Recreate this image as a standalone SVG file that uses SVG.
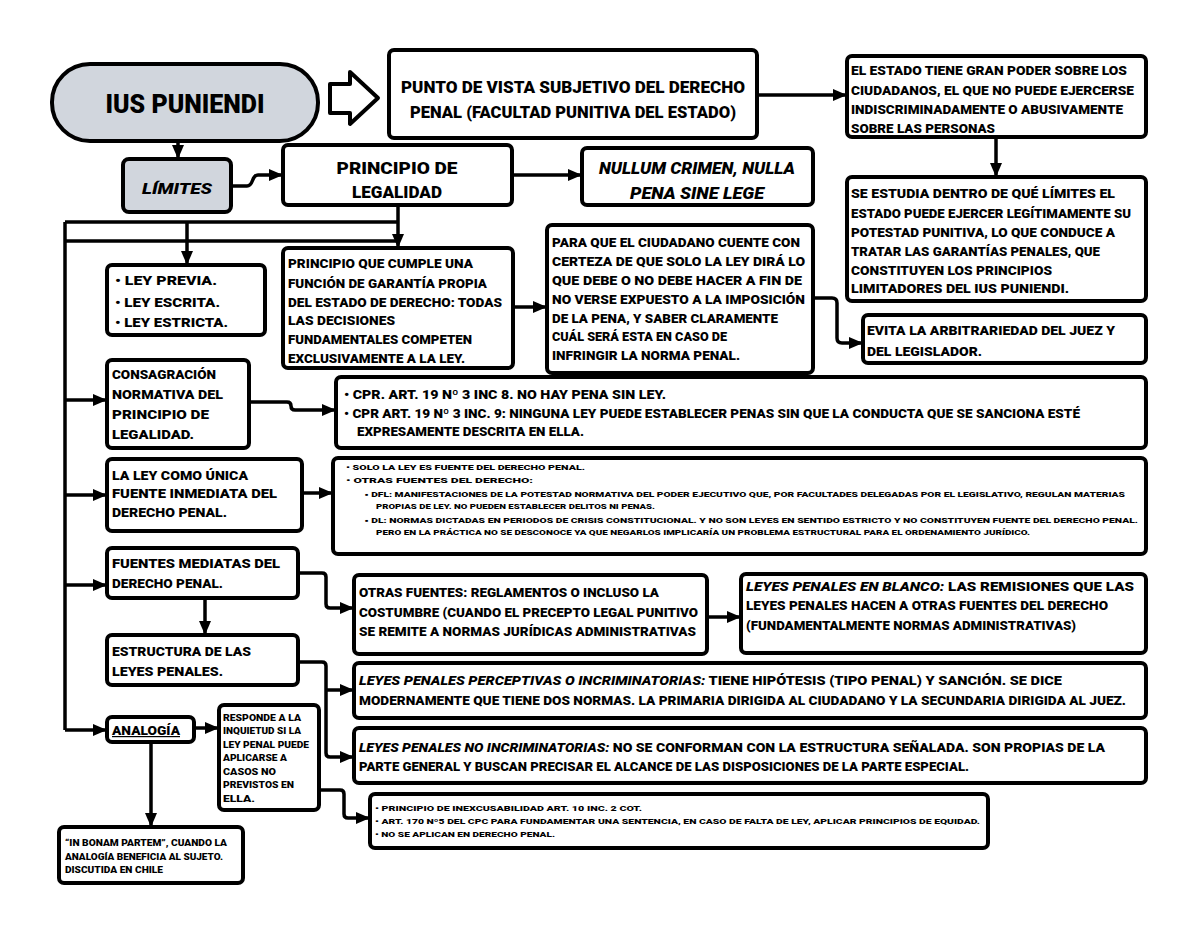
<svg xmlns="http://www.w3.org/2000/svg" width="1200" height="937" viewBox="0 0 1200 937">
<defs>
<style>
.b{fill:#fff;stroke:#000;stroke-width:4}
.g{fill:#d1d6dd;stroke:#000;stroke-width:4}
.c{fill:none;stroke:#000;stroke-width:3.5;stroke-linejoin:round}
.a{marker-end:url(#ah)}
text{font-family:Roboto,"Liberation Sans",Arial,"DejaVu Sans",sans-serif;font-weight:900;fill:#000}
.s25{font-size:25px}
.s16{font-size:16px}
.s15{font-size:15px}
.s13{font-size:13px}
.s12{font-size:12px}
.s9{font-size:9px}
.s8{font-size:8.5px}
.s7{font-size:7.5px}
.m{text-anchor:middle}
.i{font-style:italic}
</style>
<marker id="ah" markerWidth="15" markerHeight="12" refX="14" refY="6" orient="auto" markerUnits="userSpaceOnUse"><path d="M0,0 L14,6 L0,12 z" fill="#000"/></marker>
</defs>
<rect width="1200" height="937" fill="#fff"/>

<g id="connectors">
<polygon points="330,84 350,84 350,72 378,98 350,124 350,113 330,113" fill="#fff" stroke="#000" stroke-width="4" stroke-linejoin="round"/>
<path class="c a" d="M178,141 V159"/>
<path class="c a" d="M757,95 H847"/>
<path class="c a" d="M996,137 V177"/>
<path class="c a" d="M231,186 H247 C254,186 251,175 258,175 H283"/>
<path class="c a" d="M512,175 H582"/>
<path class="c a" d="M398,205 V248"/>
<path class="c" d="M65,222 H398"/>
<path class="c" d="M65,241 H398"/>
<path class="c a" d="M187,222 V265"/>
<path class="c" d="M65,222 V730"/>
<path class="c a" d="M65,400 H107"/>
<path class="c a" d="M65,495 H107"/>
<path class="c a" d="M65,585 H107"/>
<path class="c a" d="M65,730 H107"/>
<path class="c a" d="M513,307 H547"/>
<path class="c a" d="M813,298 H832 Q837,298 837,303 V338 Q837,343 842,343 H863"/>
<path class="c a" d="M249,402 H287 Q291,402 291,406 Q291,410 295,410 H336"/>
<path class="c a" d="M302,493 H333"/>
<path class="c a" d="M298,573 H322 Q326,573 326,577 V604 Q326,608 330,608 H354"/>
<path class="c a" d="M707,617 H741"/>
<path class="c a" d="M205,598 V635"/>
<path class="c a" d="M298,662 H322 Q326,662 326,666 V753 Q326,757 330,757 H354"/>
<path class="c a" d="M326,690 H354"/>
<path class="c a" d="M194,728 H219"/>
<path class="c a" d="M151,742 V827"/>
<path class="c a" d="M319,790 H340 Q344,790 344,794 V814 Q344,818 348,818 H370"/>
</g>

<g id="ius-puniendi">
<rect class="g" x="52" y="64" width="266" height="77" rx="38"/>
<text class="s25 m" x="185" y="113" textLength="159" lengthAdjust="spacingAndGlyphs">IUS PUNIENDI</text>
</g>

<g id="punto-de-vista">
<rect class="b" x="389" y="50" width="368" height="88" rx="5"/>
<text class="s16 m" x="573" y="93" textLength="344" lengthAdjust="spacingAndGlyphs">PUNTO DE VISTA SUBJETIVO DEL DERECHO</text>
<text class="s16 m" x="573" y="118" textLength="326" lengthAdjust="spacingAndGlyphs">PENAL (FACULTAD PUNITIVA DEL ESTADO)</text>
</g>

<g id="estado-poder">
<rect class="b" x="847" y="56" width="299" height="81" rx="5"/>
<text class="s13" x="851" y="75" textLength="276" lengthAdjust="spacingAndGlyphs">EL ESTADO TIENE GRAN PODER SOBRE LOS</text>
<text class="s13" x="851" y="95" textLength="283" lengthAdjust="spacingAndGlyphs">CIUDADANOS, EL QUE NO PUEDE EJERCERSE</text>
<text class="s13" x="851" y="114" textLength="272" lengthAdjust="spacingAndGlyphs">INDISCRIMINADAMENTE O ABUSIVAMENTE</text>
<text class="s13" x="851" y="133" textLength="144" lengthAdjust="spacingAndGlyphs">SOBRE LAS PERSONAS</text>
</g>

<g id="se-estudia">
<rect class="b" x="847" y="177" width="299" height="124" rx="5"/>
<text class="s13" x="851" y="198" textLength="264" lengthAdjust="spacingAndGlyphs">SE ESTUDIA DENTRO DE QUÉ LÍMITES EL</text>
<text class="s13" x="851" y="218" textLength="280" lengthAdjust="spacingAndGlyphs">ESTADO PUEDE EJERCER LEGÍTIMAMENTE SU</text>
<text class="s13" x="851" y="237" textLength="264" lengthAdjust="spacingAndGlyphs">POTESTAD PUNITIVA, LO QUE CONDUCE A</text>
<text class="s13" x="851" y="256" textLength="249" lengthAdjust="spacingAndGlyphs">TRATAR LAS GARANTÍAS PENALES, QUE</text>
<text class="s13" x="851" y="275" textLength="201" lengthAdjust="spacingAndGlyphs">CONSTITUYEN LOS PRINCIPIOS</text>
<text class="s13" x="851" y="293" textLength="218" lengthAdjust="spacingAndGlyphs">LIMITADORES DEL IUS PUNIENDI.</text>
</g>

<g id="limites">
<rect class="g" x="123" y="159" width="108" height="53" rx="6"/>
<text class="s15 m i" x="177" y="194" textLength="70" lengthAdjust="spacingAndGlyphs">LÍMITES</text>
</g>

<g id="principio-legalidad">
<rect class="b" x="283" y="145" width="229" height="60" rx="5"/>
<text class="s16 m" x="397" y="174" textLength="121" lengthAdjust="spacingAndGlyphs">PRINCIPIO DE</text>
<text class="s16 m" x="397" y="198" textLength="90" lengthAdjust="spacingAndGlyphs">LEGALIDAD</text>
</g>

<g id="nullum-crimen">
<rect class="b" x="582" y="148" width="231" height="57" rx="5"/>
<text class="s16 m i" x="697" y="174" textLength="196" lengthAdjust="spacingAndGlyphs">NULLUM CRIMEN, NULLA</text>
<text class="s16 m i" x="697" y="199" textLength="134" lengthAdjust="spacingAndGlyphs">PENA SINE LEGE</text>
</g>

<g id="ley-previa">
<rect class="b" x="107" y="265" width="158" height="70" rx="5"/>
<text class="s13" x="115" y="285" textLength="102" lengthAdjust="spacingAndGlyphs">• LEY PREVIA.</text>
<text class="s13" x="115" y="307" textLength="105" lengthAdjust="spacingAndGlyphs">• LEY ESCRITA.</text>
<text class="s13" x="115" y="327" textLength="113" lengthAdjust="spacingAndGlyphs">• LEY ESTRICTA.</text>
</g>

<g id="principio-garantia">
<rect class="b" x="283" y="248" width="230" height="120" rx="5"/>
<text class="s13" x="288" y="268" textLength="185" lengthAdjust="spacingAndGlyphs">PRINCIPIO QUE CUMPLE UNA</text>
<text class="s13" x="288" y="288" textLength="199" lengthAdjust="spacingAndGlyphs">FUNCIÓN DE GARANTÍA PROPIA</text>
<text class="s13" x="288" y="307" textLength="214" lengthAdjust="spacingAndGlyphs">DEL ESTADO DE DERECHO: TODAS</text>
<text class="s13" x="288" y="325" textLength="107" lengthAdjust="spacingAndGlyphs">LAS DECISIONES</text>
<text class="s13" x="288" y="344" textLength="184" lengthAdjust="spacingAndGlyphs">FUNDAMENTALES COMPETEN</text>
<text class="s13" x="288" y="363" textLength="177" lengthAdjust="spacingAndGlyphs">EXCLUSIVAMENTE A LA LEY.</text>
</g>

<g id="para-que">
<rect class="b" x="547" y="225" width="266" height="148" rx="5"/>
<text class="s13" x="552" y="247" textLength="248" lengthAdjust="spacingAndGlyphs">PARA QUE EL CIUDADANO CUENTE CON</text>
<text class="s13" x="552" y="266" textLength="253" lengthAdjust="spacingAndGlyphs">CERTEZA DE QUE SOLO LA LEY DIRÁ LO</text>
<text class="s13" x="552" y="285" textLength="250" lengthAdjust="spacingAndGlyphs">QUE DEBE O NO DEBE HACER A FIN DE</text>
<text class="s13" x="552" y="304" textLength="253" lengthAdjust="spacingAndGlyphs">NO VERSE EXPUESTO A LA IMPOSICIÓN</text>
<text class="s13" x="552" y="323" textLength="226" lengthAdjust="spacingAndGlyphs">DE LA PENA, Y SABER CLARAMENTE</text>
<text class="s13" x="552" y="341" textLength="175" lengthAdjust="spacingAndGlyphs">CUÁL SERÁ ESTA EN CASO DE</text>
<text class="s13" x="552" y="360" textLength="188" lengthAdjust="spacingAndGlyphs">INFRINGIR LA NORMA PENAL.</text>
</g>

<g id="evita">
<rect class="b" x="863" y="315" width="283" height="48" rx="5"/>
<text class="s13" x="867" y="335" textLength="248" lengthAdjust="spacingAndGlyphs">EVITA LA ARBITRARIEDAD DEL JUEZ Y</text>
<text class="s13" x="867" y="356" textLength="115" lengthAdjust="spacingAndGlyphs">DEL LEGISLADOR.</text>
</g>

<g id="consagracion">
<rect class="b" x="107" y="360" width="142" height="88" rx="5"/>
<text class="s12" x="112" y="379" textLength="104" lengthAdjust="spacingAndGlyphs">CONSAGRACIÓN</text>
<text class="s12" x="112" y="399" textLength="111" lengthAdjust="spacingAndGlyphs">NORMATIVA DEL</text>
<text class="s12" x="112" y="419" textLength="97" lengthAdjust="spacingAndGlyphs">PRINCIPIO DE</text>
<text class="s12" x="112" y="439" textLength="82" lengthAdjust="spacingAndGlyphs">LEGALIDAD.</text>
</g>

<g id="cpr">
<rect class="b" x="336" y="377" width="810" height="71" rx="5"/>
<text class="s12" x="344" y="399" textLength="322" lengthAdjust="spacingAndGlyphs">• CPR. ART. 19 Nº 3 INC 8. NO HAY PENA SIN LEY.</text>
<text class="s12" x="344" y="418" textLength="736" lengthAdjust="spacingAndGlyphs">• CPR ART. 19 Nº 3 INC. 9: NINGUNA LEY PUEDE ESTABLECER PENAS SIN QUE LA CONDUCTA QUE SE SANCIONA ESTÉ</text>
<text class="s12" x="357" y="436" textLength="227" lengthAdjust="spacingAndGlyphs">EXPRESAMENTE DESCRITA EN ELLA.</text>
</g>

<g id="ley-unica-fuente">
<rect class="b" x="107" y="459" width="195" height="72" rx="5"/>
<text class="s12" x="112" y="480" textLength="136" lengthAdjust="spacingAndGlyphs">LA LEY COMO ÚNICA</text>
<text class="s12" x="112" y="498" textLength="165" lengthAdjust="spacingAndGlyphs">FUENTE INMEDIATA DEL</text>
<text class="s12" x="112" y="517" textLength="115" lengthAdjust="spacingAndGlyphs">DERECHO PENAL.</text>
</g>

<g id="fuentes-detalle">
<rect class="b" x="333" y="458" width="813" height="96" rx="5"/>
<text class="s7" x="346" y="470" textLength="239" lengthAdjust="spacingAndGlyphs">• SOLO LA LEY ES FUENTE DEL DERECHO PENAL.</text>
<text class="s7" x="346" y="483" textLength="187" lengthAdjust="spacingAndGlyphs">• OTRAS FUENTES DEL DERECHO:</text>
<text class="s7" x="365" y="497" textLength="760" lengthAdjust="spacingAndGlyphs">▪ DFL: MANIFESTACIONES DE LA POTESTAD NORMATIVA DEL PODER EJECUTIVO QUE, POR FACULTADES DELEGADAS POR EL LEGISLATIVO, REGULAN MATERIAS</text>
<text class="s7" x="376" y="509" textLength="279" lengthAdjust="spacingAndGlyphs">PROPIAS DE LEY. NO PUEDEN ESTABLECER DELITOS NI PENAS.</text>
<text class="s7" x="365" y="523" textLength="773" lengthAdjust="spacingAndGlyphs">▪ DL: NORMAS DICTADAS EN PERIODOS DE CRISIS CONSTITUCIONAL. Y NO SON LEYES EN SENTIDO ESTRICTO Y NO CONSTITUYEN FUENTE DEL DERECHO PENAL.</text>
<text class="s7" x="376" y="535" textLength="654" lengthAdjust="spacingAndGlyphs">PERO EN LA PRÁCTICA NO SE DESCONOCE YA QUE NEGARLOS IMPLICARÍA UN PROBLEMA ESTRUCTURAL PARA EL ORDENAMIENTO JURÍDICO.</text>
</g>

<g id="fuentes-mediatas">
<rect class="b" x="107" y="548" width="191" height="50" rx="5"/>
<text class="s12" x="112" y="568" textLength="168" lengthAdjust="spacingAndGlyphs">FUENTES MEDIATAS DEL</text>
<text class="s12" x="112" y="588" textLength="111" lengthAdjust="spacingAndGlyphs">DERECHO PENAL.</text>
</g>

<g id="otras-fuentes">
<rect class="b" x="354" y="575" width="353" height="79" rx="5"/>
<text class="s12" x="359" y="597" textLength="300" lengthAdjust="spacingAndGlyphs">OTRAS FUENTES: REGLAMENTOS O INCLUSO LA</text>
<text class="s12" x="359" y="617" textLength="339" lengthAdjust="spacingAndGlyphs">COSTUMBRE (CUANDO EL PRECEPTO LEGAL PUNITIVO</text>
<text class="s12" x="359" y="636" textLength="337" lengthAdjust="spacingAndGlyphs">SE REMITE A NORMAS JURÍDICAS ADMINISTRATIVAS</text>
</g>

<g id="leyes-en-blanco">
<rect class="b" x="741" y="574" width="405" height="79" rx="5"/>
<text class="s13" x="746" y="591" textLength="388" lengthAdjust="spacingAndGlyphs"><tspan font-style="italic">LEYES PENALES EN BLANCO:</tspan> LAS REMISIONES QUE LAS</text>
<text class="s12" x="746" y="610" textLength="362" lengthAdjust="spacingAndGlyphs">LEYES PENALES HACEN A OTRAS FUENTES DEL DERECHO</text>
<text class="s12" x="746" y="630" textLength="330" lengthAdjust="spacingAndGlyphs">(FUNDAMENTALMENTE NORMAS ADMINISTRATIVAS)</text>
</g>

<g id="estructura">
<rect class="b" x="107" y="635" width="191" height="50" rx="5"/>
<text class="s12" x="112" y="656" textLength="139" lengthAdjust="spacingAndGlyphs">ESTRUCTURA DE LAS</text>
<text class="s12" x="112" y="676" textLength="111" lengthAdjust="spacingAndGlyphs">LEYES PENALES.</text>
</g>

<g id="leyes-perceptivas">
<rect class="b" x="354" y="663" width="792" height="55" rx="5"/>
<text class="s12" x="359" y="685" textLength="703" lengthAdjust="spacingAndGlyphs"><tspan font-style="italic">LEYES PENALES PERCEPTIVAS O INCRIMINATORIAS:</tspan> TIENE HIPÓTESIS (TIPO PENAL) Y SANCIÓN. SE DICE</text>
<text class="s12" x="359" y="705" textLength="767" lengthAdjust="spacingAndGlyphs">MODERNAMENTE QUE TIENE DOS NORMAS. LA PRIMARIA DIRIGIDA AL CIUDADANO Y LA SECUNDARIA DIRIGIDA AL JUEZ.</text>
</g>

<g id="leyes-no-incriminatorias">
<rect class="b" x="354" y="728" width="792" height="55" rx="5"/>
<text class="s12" x="359" y="752" textLength="746" lengthAdjust="spacingAndGlyphs"><tspan font-style="italic">LEYES PENALES NO INCRIMINATORIAS:</tspan> NO SE CONFORMAN CON LA ESTRUCTURA SEÑALADA. SON PROPIAS DE LA</text>
<text class="s12" x="359" y="771" textLength="610" lengthAdjust="spacingAndGlyphs">PARTE GENERAL Y BUSCAN PRECISAR EL ALCANCE DE LAS DISPOSICIONES DE LA PARTE ESPECIAL.</text>
</g>

<g id="analogia">
<rect class="b" x="107" y="717" width="87" height="25" rx="5"/>
<text class="s12" x="112" y="735" textLength="68" lengthAdjust="spacingAndGlyphs" text-decoration="underline">ANALOGÍA</text>
</g>

<g id="responde">
<rect class="b" x="219" y="705" width="100" height="105" rx="5"/>
<text class="s8" x="223" y="721" textLength="78" lengthAdjust="spacingAndGlyphs">RESPONDE A LA</text>
<text class="s8" x="223" y="734" textLength="78" lengthAdjust="spacingAndGlyphs">INQUIETUD SI LA</text>
<text class="s8" x="223" y="748" textLength="86" lengthAdjust="spacingAndGlyphs">LEY PENAL PUEDE</text>
<text class="s8" x="223" y="761" textLength="64" lengthAdjust="spacingAndGlyphs">APLICARSE A</text>
<text class="s8" x="223" y="775" textLength="53" lengthAdjust="spacingAndGlyphs">CASOS NO</text>
<text class="s8" x="223" y="788" textLength="71" lengthAdjust="spacingAndGlyphs">PREVISTOS EN</text>
<text class="s8" x="223" y="802" textLength="32" lengthAdjust="spacingAndGlyphs">ELLA.</text>
</g>

<g id="inexcusabilidad">
<rect class="b" x="370" y="794" width="618" height="54" rx="5"/>
<text class="s7" x="375" y="811" textLength="267" lengthAdjust="spacingAndGlyphs">• PRINCIPIO DE INEXCUSABILIDAD ART. 10 INC. 2 COT.</text>
<text class="s7" x="375" y="824" textLength="605" lengthAdjust="spacingAndGlyphs">• ART. 170 Nº5 DEL CPC PARA FUNDAMENTAR UNA SENTENCIA, EN CASO DE FALTA DE LEY, APLICAR PRINCIPIOS DE EQUIDAD.</text>
<text class="s7" x="375" y="837" textLength="180" lengthAdjust="spacingAndGlyphs">• NO SE APLICAN EN DERECHO PENAL.</text>
</g>

<g id="in-bonam-partem">
<rect class="b" x="59" y="827" width="184" height="56" rx="5"/>
<text class="s9" x="65" y="846" textLength="162" lengthAdjust="spacingAndGlyphs">“IN BONAM PARTEM”, CUANDO LA</text>
<text class="s9" x="65" y="860" textLength="158" lengthAdjust="spacingAndGlyphs">ANALOGÍA BENEFICIA AL SUJETO.</text>
<text class="s9" x="65" y="873" textLength="98" lengthAdjust="spacingAndGlyphs">DISCUTIDA EN CHILE</text>
</g>
</svg>
